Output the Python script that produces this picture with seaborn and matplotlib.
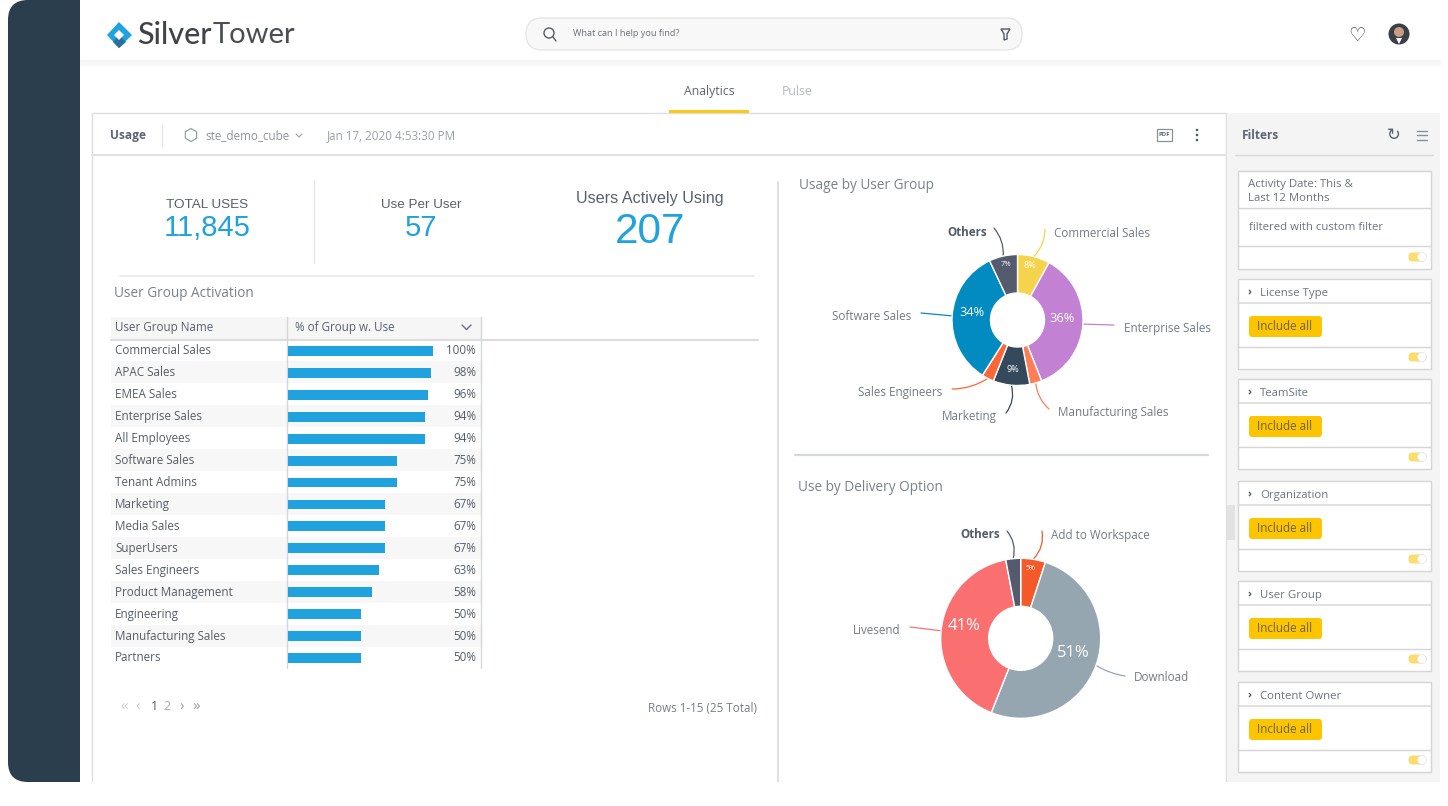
import numpy as np
import pandas as pd
import matplotlib
matplotlib.use("Agg")
import matplotlib.pyplot as plt
import seaborn as sns
from matplotlib.patches import Rectangle, FancyBboxPatch, Circle, Polygon, RegularPolygon

W, H = 1448, 806

# Data
groups = ["Commercial Sales", "APAC Sales", "EMEA Sales", "Enterprise Sales", "All Employees",
          "Software Sales", "Tenant Admins", "Marketing", "Media Sales", "SuperUsers",
          "Sales Engineers", "Product Management", "Engineering", "Manufacturing Sales", "Partners"]
group_pct = [100, 98, 96, 94, 94, 75, 75, 67, 67, 67, 63, 58, 50, 50, 50]

usage_names = ["Commercial Sales", "Enterprise Sales", "Manufacturing Sales", "Marketing",
               "Sales Engineers", "Software Sales", "Others"]
usage_vals = [8, 36, 3, 9, 3, 34, 7]
usage_colors = ["#f6d34c", "#c381d3", "#fe7f56", "#34495b", "#fd6636", "#028bc0", "#545b6f"]

delivery_names = ["Add to Workspace", "Download", "Livesend", "Others"]
delivery_vals = [5, 51, 41, 3]
delivery_colors = ["#f4592a", "#95a6b0", "#fa7070", "#545b6f"]

kpi_labels = ["TOTAL USES", "Use Per User", "Users Actively Using"]
kpi_values = ["11,845", "57", "207"]
filter_names = ["License Type", "TeamSite", "Organization", "User Group", "Content Owner"]

sns.set_theme(style="white")
plt.rcParams["font.family"] = ["Open Sans", "DejaVu Sans"]
plt.rcParams["patch.edgecolor"] = "none"

GREY = "#6d7480"
LINE = "#dcdfe2"
BLUE = "#1fa2de"

fig = plt.figure(figsize=(W / 100, H / 100), dpi=100, facecolor="white")


def px_axes(x0, y0, x1, y1, zorder):
    a = fig.add_axes([x0 / W, 1 - y1 / H, (x1 - x0) / W, (y1 - y0) / H], zorder=zorder)
    a.patch.set_alpha(0)
    return a


# background layer and text layer, both in image pixels
ax = px_axes(0, 0, W, H, 0)
top = px_axes(0, 0, W, H, 3)
for a in (ax, top):
    a.set_xlim(0, W)
    a.set_ylim(H, 0)
    a.axis("off")


def rect(x0, y0, x1, y1, fc="none", ec="none", lw=1, z=1):
    ax.add_patch(Rectangle((x0, y0), x1 - x0, y1 - y0, fc=fc, ec=ec, lw=lw, zorder=z))


def line(x0, y0, x1, y1, c=LINE, lw=1, z=2):
    ax.plot([x0, x1], [y0, y1], color=c, lw=lw, zorder=z, solid_capstyle="round")


def txt(x, y, s, size=9, c=GREY, ha="left", **kw):
    top.text(x, y + 1, s, fontsize=size, color=c, ha=ha, va="center", **kw)


# page frame
ax.add_patch(FancyBboxPatch((28, 20), 80, 742, boxstyle="round,pad=20,rounding_size=20",
                            fc="#2b3e4e", ec="none", zorder=1))
rect(80, 0, 1440, 782, fc="white", z=2)
for i in range(7):
    line(80, 60 + i, 1440, 60 + i, c="#000000", lw=1, z=3)
    ax.lines[-1].set_alpha(0.035 * (1 - i / 7))

# logo
ax.add_patch(Polygon([(119, 22), (132, 35), (119, 48), (107, 35)], fc="#1fa2de", ec="none", zorder=4))
ax.add_patch(Polygon([(119, 35), (126, 42), (119, 48), (113, 42)], fc="#2a6f9f", ec="none", zorder=5))
ax.add_patch(Polygon([(119, 30), (124, 35), (119, 40), (114, 35)], fc="white", ec="none", zorder=6))
top.text(137, 35, "Silver", fontsize=22, color="#3f4448", family="Lato", va="center", fontweight="medium")
top.text(213, 35, "Tower", fontsize=21, color="#4a4f54", family="Lato", va="center", fontweight="normal")

# search box
ax.add_patch(FancyBboxPatch((526, 18), 496, 32, boxstyle="round,pad=0,rounding_size=16",
                            fc="#f8f8f8", ec="#e6e6e6", lw=1, zorder=4))
ax.add_patch(Circle((549, 33), 5, fc="none", ec="#555b63", lw=1, zorder=5))
line(553, 37, 556, 41, c="#555b63", z=5)
txt(573, 33, "What can I help you find?", 6.6, "#6b7078")
ax.add_patch(Polygon([(1001, 29), (1010, 29), (1007, 34), (1007, 39), (1004, 40), (1004, 34)],
                     fc="none", ec="#555b63", lw=1, zorder=5))
txt(1357, 34, "♡", 14, "#30353c", ha="center", family="DejaVu Sans")
ax.add_patch(Circle((1399, 34), 10.5, fc="#3a3f48", ec="none", zorder=5))
ax.add_patch(Circle((1399, 32), 5, fc="#c99c85", ec="none", zorder=6))
ax.add_patch(Polygon([(1396, 38), (1402, 38), (1399, 44)], fc="white", ec="none", zorder=6))

# tabs
txt(709, 90.5, "Analytics", 8.8, "#5e6570", ha="center")
txt(797, 90.5, "Pulse", 8.8, "#b6babf", ha="center")
rect(669, 110, 749, 112.5, fc="#fbc918", z=4)

# main card
rect(92, 113, 1226, 790, fc="white", ec="#dedede", lw=1, z=3)
line(92, 155, 1226, 155, c="#e2e2e2", lw=1.5, z=4)
rect(80, 782, 1448, 806, fc="white", z=5)
txt(110, 134.5, "Usage", 8.6, "#5d6674", fontweight="bold")
line(162, 125, 162, 146, c="#e6e6e6", z=4)
ax.add_patch(RegularPolygon((191, 135), 6, radius=6.5, fc="none", ec="#9aa0a8", lw=0.9, zorder=4))
txt(205, 134.5, "ste_demo_cube", 8.4, "#8f959d")
line(296, 134, 299, 137, c="#9aa0a8", lw=0.8, z=4)
line(299, 137, 302, 134, c="#9aa0a8", lw=0.8, z=4)
txt(327, 134.5, "Jan 17, 2020 4:53:30 PM", 8.4, "#9aa0a8")
rect(1157, 129, 1172, 141, ec="#8b9096", lw=0.9, z=4)
txt(1164.5, 134, "PDF", 4.4, "#666c74", ha="center", fontweight="bold")
for yy in (130, 135, 140):
    ax.add_patch(Circle((1197, yy), 1.3, fc="#555b63", ec="none", zorder=4))

# KPI row
line(314, 180, 314, 263, c="#e4e6e8", z=4)
line(120, 276, 754, 276, c="#e6e8ea", lw=1.2, z=4)
line(778, 182, 778, 782, c="#d8dade", lw=1.2, z=4)
line(795, 455, 1208, 455, c="#d5d8dc", lw=1.6, z=4)
kpi_x = [207, 421, 650]
kpi_ly = [204.5, 204.5, 198]
kpi_vy = [228, 228, 232]
kpi_ls = [9.7, 9.6, 11.6]
kpi_vs = [21, 21, 30.5]
for i in range(3):
    top.text(kpi_x[i], kpi_ly[i], kpi_labels[i], fontsize=kpi_ls[i], color="#575f6c", ha="center",
             va="center", family="Liberation Sans")
    top.text(kpi_x[i], kpi_vy[i], kpi_values[i], fontsize=kpi_vs[i], color=BLUE, ha="center",
             va="center", family="Liberation Sans")

# table
txt(114, 292.5, "User Group Activation", 9.8, "#7a818c")
rect(111, 317, 481, 339, fc="#f6f6f6", z=4)
line(111, 339.5, 758, 339.5, c="#dcdcdc", lw=1.5, z=6)
txt(115, 326.5, "User Group Name", 8.4, "#5a616c")
txt(295, 326.5, "% of Group w. Use", 8.4, "#5a616c")
line(462, 325, 466.5, 329.5, c="#6b7078", z=6)
line(466.5, 329.5, 471, 325, c="#6b7078", z=6)

row_top, row_h = 339.5, 21.93
for i, (name, pct) in enumerate(zip(groups, group_pct)):
    yc = row_top + row_h * (i + 0.5)
    if i % 2 == 1:
        rect(111, yc - row_h / 2, 481, yc + row_h / 2, fc="#f7f7f7", z=4)
    txt(115, yc - 0.5, name, 8.4, "#565d68")
    txt(476, yc - 0.5, f"{pct}%", 8.4, "#565d68", ha="right")
for xx in (287, 481):
    line(xx, 317, xx, 668, c="#d4d7da", z=6)

bar_ax = px_axes(287.5, row_top + 0.5, 481, row_top + 0.5 + row_h * 15, 2)
df = pd.DataFrame({"group": groups, "pct": group_pct})
sns.barplot(data=df, x="pct", y="group", color=BLUE, saturation=1, width=0.45, orient="h",
            linewidth=0, ax=bar_ax)
bar_ax.set_xlim(0, (481 - 287.5) / 146 * 100)
bar_ax.axis("off")

txt(120, 706, "«", 11, "#c5c8cc")
txt(135, 706, "‹", 11, "#c5c8cc")
txt(151, 706, "1", 9, "#5a616c")
txt(163, 706, "2", 9, "#a8acb2")
txt(179, 706, "›", 11, "#9aa0a8")
txt(192, 706, "»", 11, "#9aa0a8")
txt(757, 707.5, "Rows 1-15 (25 Total)", 8.4, "#777e88", ha="right")


def donut(cx, cy, r, r_in, vals, colors, names, labels, pct_xy, pct_sizes):
    a = px_axes(cx - r - 2, cy - r - 2, cx + r + 2, cy + r + 2, 2)
    a.pie(vals, colors=colors, startangle=90, counterclock=False, radius=r,
          wedgeprops=dict(width=r - r_in, edgecolor="white", linewidth=1))
    a.set_xlim(-r - 2, r + 2)
    a.set_ylim(-r - 2, r + 2)
    mids = (np.cumsum(vals) - np.array(vals) / 2) / sum(vals) * 2 * np.pi
    for mid, col, name, lab in zip(mids, colors, names, labels):
        sx, sy = cx + r * np.sin(mid), cy - r * np.cos(mid)
        ex, ey, tx, ty, ha, rad = lab
        ax.annotate("", xy=(ex, ey), xytext=(sx, sy), zorder=6,
                    arrowprops=dict(arrowstyle="-", color=col, lw=0.9, shrinkA=0, shrinkB=0,
                                    connectionstyle=f"arc3,rad={rad}"))
        if name == "Others":
            txt(tx, ty - 0.5, name, 8.4, "#545b6f", ha=ha, fontweight="bold")
        else:
            txt(tx, ty - 0.5, name, 8.4, "#747b86", ha=ha)
    for v, xy, size in zip(vals, pct_xy, pct_sizes):
        if xy is not None:
            txt(xy[0], xy[1], f"{v}%", size, "white", ha="center", fontweight="medium")


# usage donut
txt(799, 184.5, "Usage by User Group", 9.8, "#7a818c")
donut(1017.5, 320, 65.5, 27, usage_vals, usage_colors, usage_names,
      [(1045, 229, 1054, 233, "left", 0.2),
       (1114, 325, 1124, 328, "left", 0.0),
       (1049, 409, 1058, 412, "left", 0.2),
       (1006, 413, 997, 416, "right", -0.25),
       (952, 389, 942, 392, "right", -0.15),
       (921, 313, 911, 316, "right", 0.0),
       (994, 228, 987, 232, "right", 0.2)],
      [(1030, 265), (1062, 317.5), None, (1013, 368), None, (972, 311), (1006, 263)],
      [6.5, 9.2, 0, 6.5, 0, 9.2, 5.5])

# delivery donut
txt(798, 486.5, "Use by Delivery Option", 9.8, "#7a818c")
donut(1020.7, 638.3, 80, 32, delivery_vals, delivery_colors, delivery_names,
      [(1042, 531, 1051, 535, "left", 0.25),
       (1125, 676, 1134, 677, "left", 0.1),
       (910, 627, 901, 630, "right", 0.0),
       (1007, 531, 1000, 534, "right", 0.25)],
      [(1031, 567), (1073, 652), (964, 625.5), None],
      [5, 12, 12, 0])

# filters panel
rect(1227, 113, 1440, 782, fc="#f4f4f4", z=4)
txt(1242, 134.5, "Filters", 8.6, "#5d6674", fontweight="bold")
txt(1394, 134, "↻", 12, "#5a616c", ha="center", family="DejaVu Sans")
for yy in (130.5, 135, 139.5):
    line(1417, yy, 1427, yy, c="#8a8f96", lw=1, z=5)
line(1235, 155, 1433, 155, c="#d8d8d8", z=5)
rect(1227, 505, 1235, 540, fc="#e2e2e2", z=5)


def toggle(y):
    ax.add_patch(FancyBboxPatch((1411, y - 2), 12, 4, boxstyle="round,pad=2.5,rounding_size=4",
                                fc="#fbdc6e", ec="none", zorder=6))
    ax.add_patch(Circle((1422, y), 4.5, fc="white", ec="#e5e5e5", lw=0.5, zorder=7))


rect(1238, 171, 1431, 269, fc="white", ec="#d5d5d5", z=5)
line(1238, 208, 1431, 208, c="#d5d5d5", z=6)
line(1238, 246, 1431, 246, c="#d5d5d5", z=6)
txt(1248, 183.5, "Activity Date: This &", 8.2)
txt(1248, 197.5, "Last 12 Months", 8.2)
txt(1249, 227, "filtered with custom filter", 8.2)
toggle(257)

filter_tops = [279, 379, 481, 581, 682]
for name, y in zip(filter_names, filter_tops):
    rect(1238, y, 1431, y + 90, fc="white", ec="#d5d5d5", z=5)
    line(1238, y + 24, 1431, y + 24, c="#dcdcdc", lw=1.2, z=6)
    line(1238, y + 68, 1431, y + 68, c="#d5d5d5", z=6)
    txt(1248, y + 12, "›", 8, "#555b63", fontweight="bold")
    txt(1260, y + 13.5, name, 8.2)
    ax.add_patch(FancyBboxPatch((1251, y + 39), 69, 17, boxstyle="round,pad=2,rounding_size=3",
                                fc="#fdc500", ec="none", zorder=6))
    txt(1257, y + 46.5, "Include all", 8.4, "#6e6238")
    toggle(y + 78)

fig.savefig("out.png", dpi=100)
